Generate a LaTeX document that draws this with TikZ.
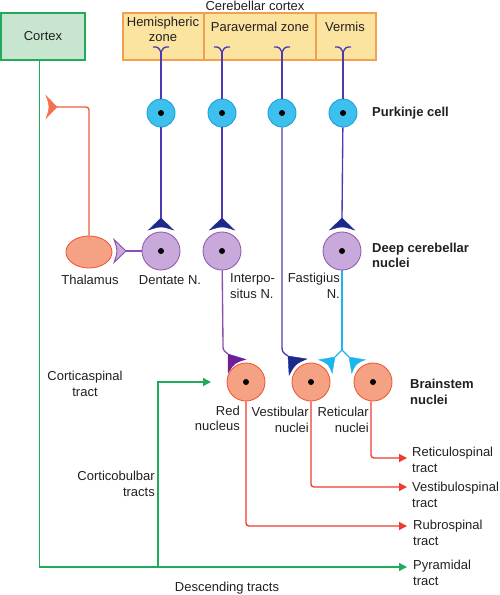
\documentclass[tikz,border=0pt]{standalone}
\usepackage{fontspec}
\setmainfont{Liberation Sans}
\usetikzlibrary{calc,arrows.meta,shapes.geometric}
\definecolor{txt}{HTML}{231F20}
\definecolor{cxfill}{HTML}{C8E6CF}
\definecolor{gr}{HTML}{22A95A}
\definecolor{ccfill}{HTML}{FBE3A0}
\definecolor{ccline}{HTML}{F0A050}
\definecolor{pkfill}{HTML}{3EC0EE}
\definecolor{pkline}{HTML}{1AA0D8}
\definecolor{bl}{HTML}{4B3CB4}
\definecolor{dkbl}{HTML}{1C2A8C}
\definecolor{dpfill}{HTML}{C9A9DC}
\definecolor{dpline}{HTML}{9060B0}
\definecolor{pu}{HTML}{8A4FB0}
\definecolor{dkpu}{HTML}{6B1F99}
\definecolor{lb}{HTML}{1EB4EC}
\definecolor{bsfill}{HTML}{F4A283}
\definecolor{bsline}{HTML}{F05A3C}
\definecolor{rd}{HTML}{EE3B2E}
\definecolor{thsyn}{HTML}{F4704F}
\newcommand\synapse[4]{\filldraw[#1] (#2) -- ($(#3)!#4!90:(#2)$) .. controls ($(#3)!4pt!(#2)$) .. ($(#3)!#4!-90:(#2)$) -- cycle;}
\begin{document}
\begin{tikzpicture}[x=1pt,y=-1pt,
  font=\fontsize{13}{15.5}\selectfont,
  lab/.style={text=txt, inner sep=0pt, align=center},
  labl/.style={text=txt, inner sep=0pt, align=left, anchor=west},
  labr/.style={text=txt, inner sep=0pt, align=right, anchor=east},
  boldlab/.style={labl, font=\fontsize{13}{15.5}\selectfont\bfseries},
  ccbox/.style={rectangle, fill=ccfill, draw=ccline, line width=1.2pt, minimum height=47pt, inner sep=0pt},
  purk/.style={circle, minimum size=28pt, fill=pkfill, draw=pkline, line width=0.9pt, inner sep=0pt},
  deep/.style={circle, minimum size=38pt, fill=dpfill, draw=dpline, line width=0.9pt, inner sep=0pt},
  brain/.style={circle, minimum size=38pt, fill=bsfill, draw=bsline, line width=0.9pt, inner sep=0pt},
  fiber/.style={line width=1.35pt},
  tip/.style={-{Triangle[length=8pt,width=8pt]}},
]
\useasboundingbox (0,0) rectangle (500,595);

% Cortex
\node[rectangle, fill=cxfill, draw=gr, line width=1.2pt, minimum width=84pt, minimum height=47pt, lab] (cortex) at (43,36.5) {Cortex};

% Cerebellar cortex
\node[ccbox, minimum width=81pt] (hemi) at (163.5,36.5) {};
\node[ccbox, minimum width=112pt] (para) at (260,36.5) {};
\node[ccbox, minimum width=60pt] (verm) at (346,36.5) {};
\node[lab] (cctitle) at (255,6) {Cerebellar cortex};
\node[lab] (hemit) at (163,29.5) {Hemispheric\\zone};
\node[lab] (parat) at (260,27) {Paravermal zone};
\node[lab] (vermt) at (345,27) {Vermis};

% forks
\foreach \n/\x in {1/161,2/222,3/282,4/343}{
  \coordinate (f\n) at (\x,52);
  \draw[bl, fiber] (\x-8,47) .. controls (\x-3,47) .. (f\n) .. controls (\x+3,47) .. (\x+8,47);
}

% Purkinje cells
\node[purk] (p1) at (161,113) {};
\node[purk] (p2) at (222,113) {};
\node[purk] (p3) at (282,113) {};
\node[purk] (p4) at (343,113) {};
\node[boldlab] (purkt) at (372,113) {Purkinje cell};

% Deep nuclei
\node[deep] (dent) at (161,251) {};
\node[deep] (intp) at (222,251) {};
\node[deep] (fast) at (342,251) {};
\node[boldlab] (deept) at (372,255.5) {Deep cerebellar\\nuclei};

% Thalamus
\node[ellipse, minimum width=46pt, minimum height=32pt, fill=bsfill, draw=bsline, line width=0.9pt, inner sep=0pt] (thal) at (89,252) {};
\node[lab] (thalt) at (90,280) {Thalamus};
\node[lab] (dentt) at (170,280) {Dentate N.};
\node[labl] (intpt) at (230,286) {Interpo-\\situs N.};
\node[labr] (fastt) at (340,286) {Fastigius\\N.};

% Brainstem nuclei
\node[brain] (red) at (246,382) {};
\node[brain] (vest) at (311,382) {};
\node[brain] (ret) at (373,382) {};
\node[boldlab] (bst) at (410,392) {Brainstem\\nuclei};
\node[labr] (redt) at (240,418.5) {Red\\nucleus};
\node[labr] (vestt) at (309,420) {Vestibular\\nuclei};
\node[labr] (rett) at (369,420) {Reticular\\nuclei};

% dots
\foreach \c in {p1,p2,p3,p4,dent,intp,fast,red,vest,ret}{
  \fill[black] (\c.center) circle (3pt);
}

% Purkinje fibers
\foreach \n in {1,2,3,4}{ \draw[bl, fiber] (f\n) -- (p\n); }
\coordinate (s1a) at (161,218); \coordinate (s1b) at (161,230);
\coordinate (s2a) at (222,218); \coordinate (s2b) at (222,230);
\coordinate (s3a) at (342,218); \coordinate (s3b) at (342,230);
\draw[bl, fiber] (p1) -- (s1a);
\draw[bl, fiber] (p2) -- (s2a);
\draw[bl, fiber] (p4) -- (s3a);
\synapse{dkbl}{s1a}{s1b}{12.5pt}
\synapse{dkbl}{s2a}{s2b}{12.5pt}
\synapse{dkbl}{s3a}{s3b}{12.5pt}

% Purkinje to vestibular
\coordinate (s5a) at (288,356); \coordinate (s5b) at (298,367);
\draw[bl, fiber] (p3) -- (282,344) .. controls (282,352) .. (s5a);
\synapse{dkbl}{s5a}{s5b}{12pt}

% Dentate to thalamus
\coordinate (thsa) at (126,251); \coordinate (thsb) at (114,251);
\draw[pu, fiber] (dent) -- (thsa);
\synapse{fill=dpfill, draw=pu, line width=0.9pt}{thsa}{thsb}{11.5pt}

% Interpositus to red nucleus
\coordinate (s4a) at (228,354); \coordinate (s4b) at (237,366);
\draw[pu, fiber] (intp) -- (223,344) .. controls (223,350) .. (s4a);
\synapse{dkpu}{s4a}{s4b}{11pt}

% Fastigius to vestibular and reticular
\coordinate (fork) at (342,350);
\coordinate (s6a) at (335,357); \coordinate (s6b) at (325.5,366.5);
\coordinate (s7a) at (349,357); \coordinate (s7b) at (358.5,366.5);
\draw[lb, fiber] (fast) -- (fork);
\draw[lb, fiber] (fork) -- (s6a);
\draw[lb, fiber] (fork) -- (s7a);
\synapse{lb}{s6a}{s6b}{9.5pt}
\synapse{lb}{s7a}{s7b}{9.5pt}

% Thalamus to cortex
\coordinate (s0a) at (57,107); \coordinate (s0b) at (46,107);
\draw[bsline, fiber, rounded corners=3pt] (thal.north) |- (s0a);
\synapse{thsyn}{s0a}{s0b}{11.5pt}

% Descending tracts
\coordinate (pyrT) at (407,567);
\coordinate (gb) at (158,567);
\coordinate (redT) at (211,382);
\draw[gr, fiber, tip] ([xshift=-3.5pt]cortex.south) |- (pyrT);
\draw[gr, fiber, tip] (gb) |- (redT);

\coordinate (rubT) at (407,526);
\coordinate (vesT) at (407,487);
\coordinate (retT) at (407,458);
\draw[rd, fiber, tip, rounded corners=3pt] (red.south) |- (rubT);
\draw[rd, fiber, tip, rounded corners=3pt] (vest.south) |- (vesT);
\draw[rd, fiber, tip, rounded corners=3pt] ([xshift=-2pt]ret.south) |- (retT);

\node[labl] (rett2) at (412,460) {Reticulospinal\\tract};
\node[labl] (vest2) at (412,495) {Vestibulospinal\\tract};
\node[labl] (rubt) at (413,533) {Rubrospinal\\tract};
\node[labl] (pyrt) at (413,573) {Pyramidal\\tract};
\node[lab] (desct) at (227,588) {Descending tracts};
\node[lab] (cst) at (85,384) {Corticaspinal\\tract};
\node[labr] (cbt) at (155,484) {Corticobulbar\\tracts};
\end{tikzpicture}
\end{document}
